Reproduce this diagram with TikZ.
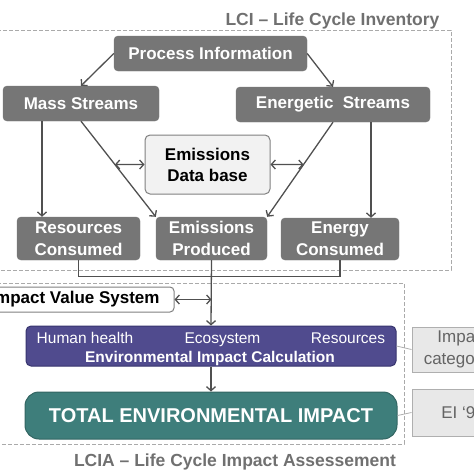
\documentclass[tikz,border=0pt]{standalone}
\usepackage{fontspec}
\setmainfont{Liberation Sans}
\usetikzlibrary{arrows.meta}
\definecolor{boxgray}{RGB}{118,118,118}
\definecolor{linegray}{RGB}{80,80,80}
\definecolor{dashgray}{RGB}{170,170,170}
\definecolor{titlegray}{RGB}{112,112,112}
\definecolor{lightfill}{RGB}{242,242,242}
\definecolor{calcblue}{RGB}{80,75,142}
\definecolor{calcedge}{RGB}{55,52,110}
\definecolor{totalteal}{RGB}{62,126,123}
\definecolor{sidefill}{RGB}{232,232,232}
\definecolor{sideedge}{RGB}{175,175,175}
\definecolor{sidetext}{RGB}{100,100,100}
\begin{document}
\begin{tikzpicture}[x=1pt,y=-1pt,
  graybox/.style={draw=boxgray,fill=boxgray,rounded corners=4pt,text=white,inner sep=0pt,align=center,
    font=\fontsize{17}{22}\selectfont\bfseries},
  lightbox/.style={draw=gray,line width=1pt,fill=lightfill,rounded corners=5pt,text=black,inner sep=0pt,align=center,
    font=\fontsize{17}{21}\selectfont\bfseries},
  sidebox/.style={draw=sideedge,line width=1pt,fill=sidefill,inner sep=0pt,align=center,text=sidetext,
    font=\fontsize{17}{22}\selectfont},
  region/.style={draw=dashgray,line width=1pt,dash pattern=on 4pt off 2pt},
  title/.style={text=titlegray,font=\fontsize{17.5}{21}\selectfont\bfseries},
  arr/.style={draw=linegray,line width=1.3pt,-{Straight Barb[length=4pt,width=9pt]}},
  darr/.style={draw=linegray,line width=1.3pt,{Straight Barb[length=4pt,width=9pt]}-{Straight Barb[length=4pt,width=9pt]}},
  conn/.style={draw=linegray,line width=1.3pt},
  thin/.style={draw=sideedge,line width=0.8pt},
  calctxt/.style={text=white,inner sep=0pt,anchor=base,font=\fontsize{15.5}{18}\selectfont}
]
\useasboundingbox (0,0) rectangle (474,474);
\clip (0,0) rectangle (474,474);

% regions
\draw[region] (-5,30) rectangle (451,270);
\draw[region] (-5,283) rectangle (404,444);
\node[title,anchor=base east] (lcititle) at (443,25) {LCI – Life Cycle Inventory};
\node[title,anchor=base] (lciatitle) at (235,466) {LCIA – Life Cycle Impact Assessement};

% LCI nodes
\node[graybox,minimum width=193pt,minimum height=35pt] (proc) at (210.5,53.5) {Process Information};
\node[graybox,minimum width=156pt,minimum height=35pt] (mass) at (81,103.5) {Mass Streams};
\node[graybox,minimum width=194pt,minimum height=35pt] (energ) at (333,104.5) {Energetic~~Streams};
\node[lightbox,minimum width=125pt,minimum height=59pt] (edb) at (207.5,164.5) {Emissions\\Data base};
\node[graybox,minimum width=123pt,minimum height=43pt] (res) at (78.5,238.5) {Resources\\Consumed};
\node[graybox,minimum width=111pt,minimum height=43pt] (emp) at (211.5,238.5) {Emissions\\Produced};
\node[graybox,minimum width=118pt,minimum height=42pt] (enc) at (340,239) {Energy\\Consumed};

% LCIA nodes
\node[draw=gray,line width=1pt,fill=white,rounded corners=4pt,inner sep=0pt,minimum width=198pt,minimum height=25pt,
  font=\fontsize{17}{20}\selectfont\bfseries] (ivs) at (75,299.5) {Impact Value System};
\node[draw=calcedge,line width=1pt,fill=calcblue,rounded corners=5pt,minimum width=370pt,minimum height=40pt,inner sep=0pt] (calc) at (211,346) {};
\node[calctxt] (hh) at (85,343) {Human health};
\node[calctxt] (eco) at (222.5,343) {Ecosystem};
\node[calctxt] (rsc) at (348,343) {Resources};
\node[calctxt,font=\fontsize{15.5}{18}\selectfont\bfseries] (eic) at (210,362) {Environmental Impact Calculation};
\node[draw=totalteal!80!black,line width=1pt,fill=totalteal,rounded corners=14pt,minimum width=372pt,minimum height=47pt,inner sep=0pt,
  text=white,font=\fontsize{20}{24}\selectfont\bfseries] (total) at (211,415.5) {TOTAL ENVIRONMENTAL IMPACT};

% side boxes
\node[sidebox,minimum width=102pt,minimum height=45pt] (impcat) at (463,349.5) {Impact\\categories};
\node[sidebox,minimum width=102pt,minimum height=47pt] (ei) at (463,412.5) {EI ‘99};

% connectors
\draw[arr] (proc.west) -- (mass.north);
\draw[arr] (proc.east) -- (energ.north);
\draw[arr] (mass.south -| 42,0) -- (res.north -| 42,0);
\draw[arr] (mass.south) -- (emp.north west);
\draw[arr] (energ.south) -- (emp.north east);
\draw[arr] (energ.south -| 371,0) -- (enc.north -| 371,0);
\draw[darr] (edb.west) -- (intersection of mass.south--emp.north west and edb.west--edb.east);
\draw[darr] (edb.east) -- (intersection of energ.south--emp.north east and edb.west--edb.east);
\draw[conn] (res.south) -- ++(0,16) -| (enc.south);
\draw[arr] (emp.south) -- (calc.north);
\draw[darr] (ivs.east) -- (ivs.east -| emp.south);
\draw[arr] (calc.south) -- (total.north);
\draw[thin] (calc.east) -- (impcat.west);
\draw[thin] (total.east) -- (ei.west);
\end{tikzpicture}
\end{document}
